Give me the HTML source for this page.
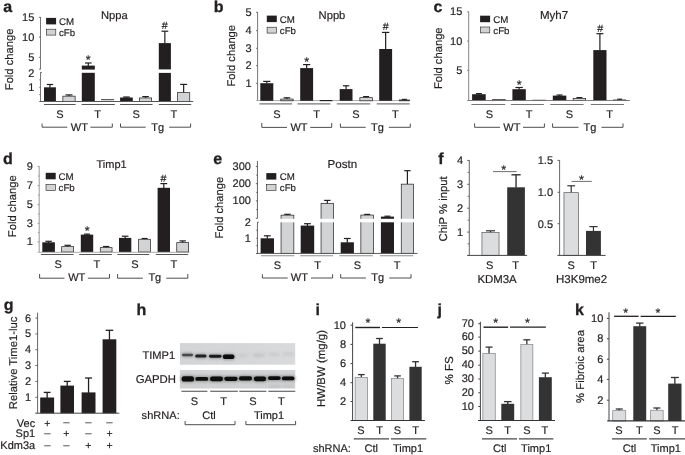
<!DOCTYPE html>
<html lang="en"><head><meta charset="utf-8"><title>Figure</title>
<style>
html,body{margin:0;padding:0;background:#fff;}
body{width:685px;height:455px;overflow:hidden;}
svg{display:block;font-family:"Liberation Sans",Arial,Helvetica,sans-serif;text-rendering:geometricPrecision;}
</style></head><body>
<svg width="685" height="455" viewBox="0 0 685 455">
<rect x="0" y="0" width="685" height="455" fill="#ffffff"/>
<text x="3.2" y="11.5" font-size="16" font-weight="bold" fill="#231f20" stroke="#231f20" stroke-width="0.3">a</text>
<text x="13.25" y="90.2" font-size="11.2" fill="#231f20" transform="rotate(-90 13.25 90.2)" stroke="#231f20" stroke-width="0.18">Fold change</text>
<line x1="40.5" y1="17" x2="40.5" y2="69.4" stroke="#666" stroke-width="0.9"/>
<line x1="38.9" y1="17.3" x2="40.5" y2="17.3" stroke="#666" stroke-width="0.9"/>
<line x1="38.9" y1="37.1" x2="40.5" y2="37.1" stroke="#666" stroke-width="0.9"/>
<line x1="38.9" y1="57.3" x2="40.5" y2="57.3" stroke="#666" stroke-width="0.9"/>
<line x1="38.9" y1="69.2" x2="40.5" y2="69.2" stroke="#666" stroke-width="0.9"/>
<line x1="40.5" y1="72.3" x2="40.5" y2="101.5" stroke="#666" stroke-width="0.9"/>
<line x1="40.5" y1="72.4" x2="42" y2="72.4" stroke="#4d4d4f" stroke-width="0.8"/>
<line x1="39.2" y1="79.9" x2="40.5" y2="79.9" stroke="#4d4d4f" stroke-width="0.7"/>
<line x1="39.2" y1="87.3" x2="40.5" y2="87.3" stroke="#4d4d4f" stroke-width="0.7"/>
<line x1="39.2" y1="94.6" x2="40.5" y2="94.6" stroke="#4d4d4f" stroke-width="0.7"/>
<text x="34.3" y="20.8" font-size="11" text-anchor="end" fill="#231f20" stroke="#231f20" stroke-width="0.18">15</text>
<text x="34.3" y="40.6" font-size="11" text-anchor="end" fill="#231f20" stroke="#231f20" stroke-width="0.18">10</text>
<text x="34.3" y="60.8" font-size="11" text-anchor="end" fill="#231f20" stroke="#231f20" stroke-width="0.18">5</text>
<text x="34.3" y="76.5" font-size="11" text-anchor="end" fill="#231f20" stroke="#231f20" stroke-width="0.18">2</text>
<text x="34.3" y="90.8" font-size="11" text-anchor="end" fill="#231f20" stroke="#231f20" stroke-width="0.18">1</text>
<rect x="46.1" y="17.9" width="10" height="6.5" fill="#231f20"/>
<rect x="46.4" y="29.2" width="9.4" height="5.9" fill="#d1d3d4" stroke="#231f20" stroke-width="0.6"/>
<text x="59" y="24.9" font-size="9.7" fill="#231f20" stroke="#231f20" stroke-width="0.18">CM</text>
<text x="59" y="35.9" font-size="9.7" fill="#231f20" stroke="#231f20" stroke-width="0.18">cFb</text>
<text x="101" y="18.6" font-size="11.2" fill="#231f20" stroke="#231f20" stroke-width="0.18">Nppa</text>
<line x1="49.95" y1="84.5" x2="49.95" y2="87.8" stroke="#231f20" stroke-width="1.2"/>
<line x1="46.75" y1="84.5" x2="53.15" y2="84.5" stroke="#231f20" stroke-width="1.2"/>
<rect x="44" y="87.3" width="11.9" height="14.3" fill="#231f20"/>
<line x1="69" y1="94.9" x2="69" y2="96.3" stroke="#231f20" stroke-width="1.2"/>
<line x1="65.5" y1="94.9" x2="72.5" y2="94.9" stroke="#231f20" stroke-width="1.2"/>
<rect x="62.85" y="96.15" width="12.3" height="5.45" fill="#d1d3d4" stroke="#231f20" stroke-width="0.7"/>
<line x1="88.3" y1="63" x2="88.3" y2="66.1" stroke="#231f20" stroke-width="1.2"/>
<line x1="85" y1="63" x2="91.6" y2="63" stroke="#231f20" stroke-width="1.2"/>
<rect x="81.8" y="65.6" width="13" height="36" fill="#231f20"/>
<rect x="101.35" y="99.65" width="12.3" height="1.95" fill="#d1d3d4" stroke="#231f20" stroke-width="0.7"/>
<line x1="126.45" y1="97" x2="126.45" y2="98" stroke="#231f20" stroke-width="1.2"/>
<line x1="123.15" y1="97" x2="129.75" y2="97" stroke="#231f20" stroke-width="1.2"/>
<rect x="120.1" y="97.5" width="12.7" height="4.1" fill="#231f20"/>
<line x1="145.55" y1="96.6" x2="145.55" y2="98.1" stroke="#231f20" stroke-width="1.2"/>
<line x1="142.25" y1="96.6" x2="148.85" y2="96.6" stroke="#231f20" stroke-width="1.2"/>
<rect x="139.45" y="97.95" width="12.2" height="3.65" fill="#d1d3d4" stroke="#231f20" stroke-width="0.7"/>
<line x1="164.85" y1="31.2" x2="164.85" y2="43.6" stroke="#231f20" stroke-width="1.2"/>
<line x1="161.45" y1="31.2" x2="168.25" y2="31.2" stroke="#231f20" stroke-width="1.2"/>
<rect x="158.8" y="43.1" width="12.1" height="58.5" fill="#231f20"/>
<line x1="183.65" y1="84.4" x2="183.65" y2="92.8" stroke="#231f20" stroke-width="1.2"/>
<line x1="180.15" y1="84.4" x2="187.15" y2="84.4" stroke="#231f20" stroke-width="1.2"/>
<rect x="177.55" y="92.65" width="12.2" height="8.95" fill="#d1d3d4" stroke="#231f20" stroke-width="0.7"/>
<rect x="80" y="69.6" width="16" height="3.2" fill="#fff"/>
<rect x="157" y="69.4" width="16" height="3.5" fill="#fff"/>
<line x1="39.4" y1="101.5" x2="193.2" y2="101.5" stroke="#555" stroke-width="1"/>
<line x1="44" y1="104.5" x2="75.6" y2="104.5" stroke="#555" stroke-width="1"/>
<line x1="81.6" y1="104.5" x2="114.8" y2="104.5" stroke="#555" stroke-width="1"/>
<line x1="120.1" y1="104.5" x2="152.5" y2="104.5" stroke="#555" stroke-width="1"/>
<line x1="158.8" y1="104.5" x2="191.2" y2="104.5" stroke="#555" stroke-width="1"/>
<text x="88.3" y="64.45" font-size="12.5" text-anchor="middle" fill="#231f20" stroke="#231f20" stroke-width="0.18">*</text>
<text x="164.6" y="28.8" font-size="10.6" text-anchor="middle" fill="#231f20" stroke="#231f20" stroke-width="0.18">#</text>
<text x="59.8" y="118" font-size="11" text-anchor="middle" fill="#231f20" stroke="#231f20" stroke-width="0.18">S</text>
<text x="97.5" y="118" font-size="11" text-anchor="middle" fill="#231f20" stroke="#231f20" stroke-width="0.18">T</text>
<text x="136.1" y="118" font-size="11" text-anchor="middle" fill="#231f20" stroke="#231f20" stroke-width="0.18">S</text>
<text x="173.9" y="118" font-size="11" text-anchor="middle" fill="#231f20" stroke="#231f20" stroke-width="0.18">T</text>
<path d="M42.1 123.5V127.2H67.3" fill="none" stroke="#3a3a3c" stroke-width="0.9"/>
<path d="M90.4 127.2H112.3V123.5" fill="none" stroke="#3a3a3c" stroke-width="0.9"/>
<text x="79.4" y="130.7" font-size="11" text-anchor="middle" fill="#231f20" stroke="#231f20" stroke-width="0.18">WT</text>
<path d="M120.5 123.5V127.2H145.7" fill="none" stroke="#3a3a3c" stroke-width="0.9"/>
<path d="M169.2 127.2H190.6V123.5" fill="none" stroke="#3a3a3c" stroke-width="0.9"/>
<text x="157.7" y="130.7" font-size="11" text-anchor="middle" fill="#231f20" stroke="#231f20" stroke-width="0.18">Tg</text>
<text x="213.8" y="11.5" font-size="16" font-weight="bold" fill="#231f20" stroke="#231f20" stroke-width="0.3">b</text>
<text x="235.1" y="86.5" font-size="11.2" fill="#231f20" transform="rotate(-90 235.1 86.5)" stroke="#231f20" stroke-width="0.18">Fold change</text>
<line x1="257.6" y1="12" x2="257.6" y2="100.8" stroke="#666" stroke-width="0.9"/>
<line x1="256" y1="12.3" x2="257.6" y2="12.3" stroke="#666" stroke-width="0.9"/>
<line x1="256" y1="30.6" x2="257.6" y2="30.6" stroke="#666" stroke-width="0.9"/>
<line x1="256" y1="48.3" x2="257.6" y2="48.3" stroke="#666" stroke-width="0.9"/>
<line x1="256" y1="65.6" x2="257.6" y2="65.6" stroke="#666" stroke-width="0.9"/>
<line x1="256" y1="83.3" x2="257.6" y2="83.3" stroke="#666" stroke-width="0.9"/>
<text x="251.5" y="15.8" font-size="11" text-anchor="end" fill="#231f20" stroke="#231f20" stroke-width="0.18">5</text>
<text x="251.5" y="34.1" font-size="11" text-anchor="end" fill="#231f20" stroke="#231f20" stroke-width="0.18">4</text>
<text x="251.5" y="51.8" font-size="11" text-anchor="end" fill="#231f20" stroke="#231f20" stroke-width="0.18">3</text>
<text x="251.5" y="69.1" font-size="11" text-anchor="end" fill="#231f20" stroke="#231f20" stroke-width="0.18">2</text>
<text x="251.5" y="86.7" font-size="11" text-anchor="end" fill="#231f20" stroke="#231f20" stroke-width="0.18">1</text>
<rect x="266.8" y="15.6" width="10" height="6.5" fill="#231f20"/>
<rect x="267.1" y="27.2" width="9.4" height="5.9" fill="#d1d3d4" stroke="#231f20" stroke-width="0.6"/>
<text x="279.8" y="22.6" font-size="9.7" fill="#231f20" stroke="#231f20" stroke-width="0.18">CM</text>
<text x="279.8" y="33.9" font-size="9.7" fill="#231f20" stroke="#231f20" stroke-width="0.18">cFb</text>
<text x="318.6" y="18.6" font-size="11.2" fill="#231f20" stroke="#231f20" stroke-width="0.18">Nppb</text>
<line x1="256.2" y1="100.6" x2="410" y2="100.6" stroke="#a0a0a0" stroke-width="0.9"/>
<line x1="266.8" y1="81.4" x2="266.8" y2="83.7" stroke="#231f20" stroke-width="1.2"/>
<line x1="263.2" y1="81.4" x2="270.4" y2="81.4" stroke="#231f20" stroke-width="1.2"/>
<rect x="260.3" y="83.2" width="13" height="17.6" fill="#231f20"/>
<line x1="286.95" y1="97.8" x2="286.95" y2="99.2" stroke="#231f20" stroke-width="1.2"/>
<line x1="283.65" y1="97.8" x2="290.25" y2="97.8" stroke="#231f20" stroke-width="1.2"/>
<rect x="280.75" y="99.05" width="12.4" height="1.75" fill="#d1d3d4" stroke="#231f20" stroke-width="0.7"/>
<line x1="306.65" y1="64.6" x2="306.65" y2="68.6" stroke="#231f20" stroke-width="1.2"/>
<line x1="303.05" y1="64.6" x2="310.25" y2="64.6" stroke="#231f20" stroke-width="1.2"/>
<rect x="300.2" y="68.1" width="12.9" height="32.7" fill="#231f20"/>
<rect x="320.15" y="100.35" width="11.9" height="0.45" fill="#d1d3d4" stroke="#231f20" stroke-width="0.7"/>
<line x1="346.1" y1="85.8" x2="346.1" y2="89.6" stroke="#231f20" stroke-width="1.2"/>
<line x1="342.9" y1="85.8" x2="349.3" y2="85.8" stroke="#231f20" stroke-width="1.2"/>
<rect x="339.7" y="89.1" width="12.8" height="11.7" fill="#231f20"/>
<line x1="366.1" y1="96.6" x2="366.1" y2="97.8" stroke="#231f20" stroke-width="1.2"/>
<line x1="363.1" y1="96.6" x2="369.1" y2="96.6" stroke="#231f20" stroke-width="1.2"/>
<rect x="359.85" y="97.65" width="12.5" height="3.15" fill="#d1d3d4" stroke="#231f20" stroke-width="0.7"/>
<line x1="385.65" y1="32.4" x2="385.65" y2="49.5" stroke="#231f20" stroke-width="1.2"/>
<line x1="381.95" y1="32.4" x2="389.35" y2="32.4" stroke="#231f20" stroke-width="1.2"/>
<rect x="379.2" y="49" width="12.9" height="51.8" fill="#231f20"/>
<line x1="404.35" y1="99.4" x2="404.35" y2="100.1" stroke="#231f20" stroke-width="1.2"/>
<line x1="401.85" y1="99.4" x2="406.85" y2="99.4" stroke="#231f20" stroke-width="1.2"/>
<rect x="399.35" y="99.95" width="10" height="0.85" fill="#d1d3d4" stroke="#231f20" stroke-width="0.7"/>
<line x1="259.4" y1="103.85" x2="292.1" y2="103.85" stroke="#777" stroke-width="1.2"/>
<line x1="297.5" y1="103.85" x2="330.4" y2="103.85" stroke="#777" stroke-width="1.2"/>
<line x1="336.8" y1="103.85" x2="370.3" y2="103.85" stroke="#777" stroke-width="1.2"/>
<line x1="376.7" y1="103.85" x2="409.7" y2="103.85" stroke="#777" stroke-width="1.2"/>
<text x="306.8" y="65.65" font-size="12.5" text-anchor="middle" fill="#231f20" stroke="#231f20" stroke-width="0.18">*</text>
<text x="385.8" y="30.3" font-size="10.6" text-anchor="middle" fill="#231f20" stroke="#231f20" stroke-width="0.18">#</text>
<text x="277" y="118" font-size="11" text-anchor="middle" fill="#231f20" stroke="#231f20" stroke-width="0.18">S</text>
<text x="316.5" y="118" font-size="11" text-anchor="middle" fill="#231f20" stroke="#231f20" stroke-width="0.18">T</text>
<text x="355.8" y="118" font-size="11" text-anchor="middle" fill="#231f20" stroke="#231f20" stroke-width="0.18">S</text>
<text x="395.4" y="118" font-size="11" text-anchor="middle" fill="#231f20" stroke="#231f20" stroke-width="0.18">T</text>
<path d="M261.8 123V127.4H287" fill="none" stroke="#3a3a3c" stroke-width="0.9"/>
<path d="M310.2 127.4H331.7V123" fill="none" stroke="#3a3a3c" stroke-width="0.9"/>
<text x="299" y="130.5" font-size="11" text-anchor="middle" fill="#231f20" stroke="#231f20" stroke-width="0.18">WT</text>
<path d="M340.4 123.6V127.3H365.7" fill="none" stroke="#3a3a3c" stroke-width="0.9"/>
<path d="M388.8 127.3H410.3V123.6" fill="none" stroke="#3a3a3c" stroke-width="0.9"/>
<text x="377.5" y="130.5" font-size="11" text-anchor="middle" fill="#231f20" stroke="#231f20" stroke-width="0.18">Tg</text>
<text x="433.4" y="11.5" font-size="16" font-weight="bold" fill="#231f20" stroke="#231f20" stroke-width="0.3">c</text>
<text x="442" y="89" font-size="11.2" fill="#231f20" transform="rotate(-90 442 89)" stroke="#231f20" stroke-width="0.18">Fold change</text>
<line x1="468.7" y1="11.5" x2="468.7" y2="100.6" stroke="#777" stroke-width="0.9"/>
<line x1="467.1" y1="11.8" x2="468.7" y2="11.8" stroke="#777" stroke-width="0.9"/>
<line x1="467.1" y1="41.1" x2="468.7" y2="41.1" stroke="#777" stroke-width="0.9"/>
<line x1="467.1" y1="70.4" x2="468.7" y2="70.4" stroke="#777" stroke-width="0.9"/>
<text x="462.3" y="15.3" font-size="11" text-anchor="end" fill="#231f20" stroke="#231f20" stroke-width="0.18">15</text>
<text x="462.3" y="44.6" font-size="11" text-anchor="end" fill="#231f20" stroke="#231f20" stroke-width="0.18">10</text>
<text x="462.3" y="73.9" font-size="11" text-anchor="end" fill="#231f20" stroke="#231f20" stroke-width="0.18">5</text>
<rect x="480.1" y="15.7" width="10" height="6.5" fill="#231f20"/>
<rect x="480.4" y="27" width="9.4" height="5.9" fill="#d1d3d4" stroke="#231f20" stroke-width="0.6"/>
<text x="493.3" y="22.7" font-size="9.7" fill="#231f20" stroke="#231f20" stroke-width="0.18">CM</text>
<text x="493.3" y="33.7" font-size="9.7" fill="#231f20" stroke="#231f20" stroke-width="0.18">cFb</text>
<text x="540" y="18.7" font-size="11.5" fill="#231f20" stroke="#231f20" stroke-width="0.18">Myh7</text>
<line x1="478.9" y1="93.6" x2="478.9" y2="94.7" stroke="#231f20" stroke-width="1.2"/>
<line x1="475.9" y1="93.6" x2="481.9" y2="93.6" stroke="#231f20" stroke-width="1.2"/>
<rect x="472.1" y="94.2" width="13.6" height="6.4" fill="#231f20"/>
<rect x="492.55" y="99.65" width="12.8" height="0.95" fill="#d1d3d4" stroke="#231f20" stroke-width="0.7"/>
<line x1="519.1" y1="87.5" x2="519.1" y2="89.7" stroke="#231f20" stroke-width="1.2"/>
<line x1="515.4" y1="87.5" x2="522.8" y2="87.5" stroke="#231f20" stroke-width="1.2"/>
<rect x="512.4" y="89.2" width="13.4" height="11.4" fill="#231f20"/>
<rect x="532.85" y="100.15" width="12.7" height="0.45" fill="#d1d3d4" stroke="#231f20" stroke-width="0.7"/>
<line x1="559.55" y1="95" x2="559.55" y2="96.1" stroke="#231f20" stroke-width="1.2"/>
<line x1="556.55" y1="95" x2="562.55" y2="95" stroke="#231f20" stroke-width="1.2"/>
<rect x="552.8" y="95.6" width="13.5" height="5" fill="#231f20"/>
<line x1="579.4" y1="97.6" x2="579.4" y2="98.5" stroke="#231f20" stroke-width="1.2"/>
<line x1="576.4" y1="97.6" x2="582.4" y2="97.6" stroke="#231f20" stroke-width="1.2"/>
<rect x="573.15" y="98.35" width="12.5" height="2.25" fill="#d1d3d4" stroke="#231f20" stroke-width="0.7"/>
<line x1="599.9" y1="33.7" x2="599.9" y2="50.6" stroke="#231f20" stroke-width="1.2"/>
<line x1="596.4" y1="33.7" x2="603.4" y2="33.7" stroke="#231f20" stroke-width="1.2"/>
<rect x="593.3" y="50.1" width="13.2" height="50.5" fill="#231f20"/>
<line x1="619.7" y1="99.2" x2="619.7" y2="100.1" stroke="#231f20" stroke-width="1.2"/>
<line x1="617.2" y1="99.2" x2="622.2" y2="99.2" stroke="#231f20" stroke-width="1.2"/>
<rect x="613.45" y="99.95" width="12.5" height="0.65" fill="#d1d3d4" stroke="#231f20" stroke-width="0.7"/>
<line x1="467.2" y1="100.5" x2="630" y2="100.5" stroke="#707070" stroke-width="0.9"/>
<line x1="471.4" y1="104.5" x2="505.3" y2="104.5" stroke="#666" stroke-width="0.9"/>
<line x1="510.9" y1="104.5" x2="543.9" y2="104.5" stroke="#666" stroke-width="0.9"/>
<line x1="550.3" y1="104.5" x2="583.6" y2="104.5" stroke="#666" stroke-width="0.9"/>
<line x1="590.8" y1="104.5" x2="624" y2="104.5" stroke="#666" stroke-width="0.9"/>
<text x="519.1" y="89.05" font-size="12.5" text-anchor="middle" fill="#231f20" stroke="#231f20" stroke-width="0.18">*</text>
<text x="600.2" y="31.6" font-size="10.6" text-anchor="middle" fill="#231f20" stroke="#231f20" stroke-width="0.18">#</text>
<text x="489.4" y="118" font-size="11" text-anchor="middle" fill="#231f20" stroke="#231f20" stroke-width="0.18">S</text>
<text x="529.2" y="118" font-size="11" text-anchor="middle" fill="#231f20" stroke="#231f20" stroke-width="0.18">T</text>
<text x="569.5" y="118" font-size="11" text-anchor="middle" fill="#231f20" stroke="#231f20" stroke-width="0.18">S</text>
<text x="609.6" y="118" font-size="11" text-anchor="middle" fill="#231f20" stroke="#231f20" stroke-width="0.18">T</text>
<path d="M474.6 123.4V127.3H500" fill="none" stroke="#3a3a3c" stroke-width="0.9"/>
<path d="M523 127.3H544.4V123.4" fill="none" stroke="#3a3a3c" stroke-width="0.9"/>
<text x="511.9" y="130.7" font-size="11" text-anchor="middle" fill="#231f20" stroke="#231f20" stroke-width="0.18">WT</text>
<path d="M552.6 123.4V127.3H578.5" fill="none" stroke="#3a3a3c" stroke-width="0.9"/>
<path d="M601.5 127.3H623V123.4" fill="none" stroke="#3a3a3c" stroke-width="0.9"/>
<text x="590" y="130.5" font-size="11" text-anchor="middle" fill="#231f20" stroke="#231f20" stroke-width="0.18">Tg</text>
<text x="3" y="164.3" font-size="16" font-weight="bold" fill="#231f20" stroke="#231f20" stroke-width="0.3">d</text>
<text x="16.5" y="237.2" font-size="11.25" fill="#231f20" transform="rotate(-90 16.5 237.2)" stroke="#231f20" stroke-width="0.18">Fold change</text>
<line x1="39.2" y1="166.2" x2="39.2" y2="252" stroke="#8c8c8c" stroke-width="0.9"/>
<line x1="37.6" y1="166.5" x2="39.2" y2="166.5" stroke="#8c8c8c" stroke-width="0.9"/>
<line x1="37.6" y1="185.6" x2="39.2" y2="185.6" stroke="#8c8c8c" stroke-width="0.9"/>
<line x1="37.6" y1="204.6" x2="39.2" y2="204.6" stroke="#8c8c8c" stroke-width="0.9"/>
<line x1="37.6" y1="223.3" x2="39.2" y2="223.3" stroke="#8c8c8c" stroke-width="0.9"/>
<line x1="37.6" y1="241.9" x2="39.2" y2="241.9" stroke="#8c8c8c" stroke-width="0.9"/>
<line x1="37.92" y1="176" x2="39.2" y2="176" stroke="#8c8c8c" stroke-width="0.81"/>
<line x1="37.92" y1="195.1" x2="39.2" y2="195.1" stroke="#8c8c8c" stroke-width="0.81"/>
<line x1="37.92" y1="214" x2="39.2" y2="214" stroke="#8c8c8c" stroke-width="0.81"/>
<line x1="37.92" y1="232.6" x2="39.2" y2="232.6" stroke="#8c8c8c" stroke-width="0.81"/>
<text x="32.8" y="170" font-size="11" text-anchor="end" fill="#231f20" stroke="#231f20" stroke-width="0.18">9</text>
<text x="32.8" y="189.1" font-size="11" text-anchor="end" fill="#231f20" stroke="#231f20" stroke-width="0.18">7</text>
<text x="32.8" y="208.1" font-size="11" text-anchor="end" fill="#231f20" stroke="#231f20" stroke-width="0.18">5</text>
<text x="32.8" y="226.8" font-size="11" text-anchor="end" fill="#231f20" stroke="#231f20" stroke-width="0.18">3</text>
<text x="32.8" y="245.4" font-size="11" text-anchor="end" fill="#231f20" stroke="#231f20" stroke-width="0.18">1</text>
<rect x="45.7" y="172.8" width="10" height="6.5" fill="#231f20"/>
<rect x="46" y="184.5" width="9.4" height="5.9" fill="#d1d3d4" stroke="#231f20" stroke-width="0.6"/>
<text x="58.6" y="179.8" font-size="9.7" fill="#231f20" stroke="#231f20" stroke-width="0.18">CM</text>
<text x="58.6" y="191.2" font-size="9.7" fill="#231f20" stroke="#231f20" stroke-width="0.18">cFb</text>
<text x="96.5" y="167.9" font-size="11" fill="#231f20" stroke="#231f20" stroke-width="0.18">Timp1</text>
<line x1="48.6" y1="241.3" x2="48.6" y2="242.8" stroke="#231f20" stroke-width="1.2"/>
<line x1="45.4" y1="241.3" x2="51.8" y2="241.3" stroke="#231f20" stroke-width="1.2"/>
<rect x="42.3" y="242.3" width="12.6" height="9.7" fill="#231f20"/>
<line x1="67.65" y1="245.3" x2="67.65" y2="246.8" stroke="#231f20" stroke-width="1.2"/>
<line x1="64.45" y1="245.3" x2="70.85" y2="245.3" stroke="#231f20" stroke-width="1.2"/>
<rect x="61.65" y="246.65" width="12" height="5.35" fill="#d1d3d4" stroke="#231f20" stroke-width="0.7"/>
<line x1="87" y1="234.1" x2="87" y2="235.1" stroke="#231f20" stroke-width="1.2"/>
<line x1="84" y1="234.1" x2="90" y2="234.1" stroke="#231f20" stroke-width="1.2"/>
<rect x="80.8" y="234.6" width="12.4" height="17.4" fill="#231f20"/>
<line x1="106.15" y1="246.5" x2="106.15" y2="247.8" stroke="#231f20" stroke-width="1.2"/>
<line x1="102.95" y1="246.5" x2="109.35" y2="246.5" stroke="#231f20" stroke-width="1.2"/>
<rect x="100.25" y="247.65" width="11.8" height="4.35" fill="#d1d3d4" stroke="#231f20" stroke-width="0.7"/>
<line x1="125.15" y1="236.2" x2="125.15" y2="238.4" stroke="#231f20" stroke-width="1.2"/>
<line x1="121.85" y1="236.2" x2="128.45" y2="236.2" stroke="#231f20" stroke-width="1.2"/>
<rect x="119" y="237.9" width="12.3" height="14.1" fill="#231f20"/>
<line x1="144.6" y1="238.5" x2="144.6" y2="239.4" stroke="#231f20" stroke-width="1.2"/>
<line x1="141.6" y1="238.5" x2="147.6" y2="238.5" stroke="#231f20" stroke-width="1.2"/>
<rect x="138.65" y="239.25" width="11.9" height="12.75" fill="#d1d3d4" stroke="#231f20" stroke-width="0.7"/>
<line x1="163.8" y1="183.6" x2="163.8" y2="188.3" stroke="#231f20" stroke-width="1.2"/>
<line x1="160.4" y1="183.6" x2="167.2" y2="183.6" stroke="#231f20" stroke-width="1.2"/>
<rect x="157.6" y="187.8" width="12.4" height="64.2" fill="#231f20"/>
<line x1="182.7" y1="240.9" x2="182.7" y2="242.8" stroke="#231f20" stroke-width="1.2"/>
<line x1="179.5" y1="240.9" x2="185.9" y2="240.9" stroke="#231f20" stroke-width="1.2"/>
<rect x="176.75" y="242.65" width="11.9" height="9.35" fill="#d1d3d4" stroke="#231f20" stroke-width="0.7"/>
<line x1="37.6" y1="252.3" x2="189.3" y2="252.3" stroke="#a0a0a0" stroke-width="0.9"/>
<line x1="40.9" y1="254.5" x2="73.6" y2="254.5" stroke="#444" stroke-width="0.9"/>
<line x1="79.2" y1="254.5" x2="111.8" y2="254.5" stroke="#444" stroke-width="0.9"/>
<line x1="117.3" y1="254.5" x2="149.2" y2="254.5" stroke="#444" stroke-width="0.9"/>
<line x1="155.9" y1="254.5" x2="188.1" y2="254.5" stroke="#444" stroke-width="0.9"/>
<text x="87.3" y="235.25" font-size="12.5" text-anchor="middle" fill="#231f20" stroke="#231f20" stroke-width="0.18">*</text>
<text x="163.5" y="181.7" font-size="10.6" text-anchor="middle" fill="#231f20" stroke="#231f20" stroke-width="0.18">#</text>
<text x="58.2" y="267.5" font-size="11" text-anchor="middle" fill="#231f20" stroke="#231f20" stroke-width="0.18">S</text>
<text x="96.8" y="267.5" font-size="11" text-anchor="middle" fill="#231f20" stroke="#231f20" stroke-width="0.18">T</text>
<text x="134.9" y="267.5" font-size="11" text-anchor="middle" fill="#231f20" stroke="#231f20" stroke-width="0.18">S</text>
<text x="173.9" y="267.5" font-size="11" text-anchor="middle" fill="#231f20" stroke="#231f20" stroke-width="0.18">T</text>
<path d="M39.6 274V278.2H64.4" fill="none" stroke="#3a3a3c" stroke-width="0.9"/>
<path d="M87.9 278.2H109.5V274" fill="none" stroke="#3a3a3c" stroke-width="0.9"/>
<text x="76.7" y="281.1" font-size="11" text-anchor="middle" fill="#231f20" stroke="#231f20" stroke-width="0.18">WT</text>
<path d="M117.6 274V278.2H142.8" fill="none" stroke="#3a3a3c" stroke-width="0.9"/>
<path d="M166.3 278.2H187.8V274" fill="none" stroke="#3a3a3c" stroke-width="0.9"/>
<text x="154.8" y="280.9" font-size="11" text-anchor="middle" fill="#231f20" stroke="#231f20" stroke-width="0.18">Tg</text>
<text x="213.2" y="164.3" font-size="16" font-weight="bold" fill="#231f20" stroke="#231f20" stroke-width="0.3">e</text>
<text x="222.6" y="238.4" font-size="11.2" fill="#231f20" transform="rotate(-90 222.6 238.4)" stroke="#231f20" stroke-width="0.18">Fold change</text>
<line x1="257.45" y1="160.9" x2="257.45" y2="218.5" stroke="#555" stroke-width="0.9"/>
<line x1="255.85" y1="166.5" x2="257.45" y2="166.5" stroke="#555" stroke-width="0.9"/>
<line x1="255.85" y1="183.7" x2="257.45" y2="183.7" stroke="#555" stroke-width="0.9"/>
<line x1="255.85" y1="200.9" x2="257.45" y2="200.9" stroke="#555" stroke-width="0.9"/>
<line x1="255.85" y1="218.3" x2="257.45" y2="218.3" stroke="#555" stroke-width="0.9"/>
<line x1="256.17" y1="175.2" x2="257.45" y2="175.2" stroke="#555" stroke-width="0.81"/>
<line x1="256.17" y1="192.4" x2="257.45" y2="192.4" stroke="#555" stroke-width="0.81"/>
<line x1="256.17" y1="209.6" x2="257.45" y2="209.6" stroke="#555" stroke-width="0.81"/>
<line x1="257.45" y1="222.2" x2="257.45" y2="253.5" stroke="#555" stroke-width="0.9"/>
<line x1="257.45" y1="222.3" x2="258.95" y2="222.3" stroke="#4d4d4f" stroke-width="0.8"/>
<line x1="256.15" y1="230.2" x2="257.45" y2="230.2" stroke="#4d4d4f" stroke-width="0.7"/>
<line x1="256.15" y1="238.2" x2="257.45" y2="238.2" stroke="#4d4d4f" stroke-width="0.7"/>
<line x1="256.15" y1="245.7" x2="257.45" y2="245.7" stroke="#4d4d4f" stroke-width="0.7"/>
<text x="250.9" y="170" font-size="11" text-anchor="end" fill="#231f20" stroke="#231f20" stroke-width="0.18">300</text>
<text x="250.9" y="187.2" font-size="11" text-anchor="end" fill="#231f20" stroke="#231f20" stroke-width="0.18">200</text>
<text x="250.9" y="204.4" font-size="11" text-anchor="end" fill="#231f20" stroke="#231f20" stroke-width="0.18">100</text>
<text x="250.9" y="225.8" font-size="11" text-anchor="end" fill="#231f20" stroke="#231f20" stroke-width="0.18">2</text>
<text x="250.9" y="241.7" font-size="11" text-anchor="end" fill="#231f20" stroke="#231f20" stroke-width="0.18">1</text>
<rect x="266.3" y="173.1" width="10" height="6.5" fill="#231f20"/>
<rect x="266.6" y="184.5" width="9.4" height="5.9" fill="#d1d3d4" stroke="#231f20" stroke-width="0.6"/>
<text x="279.8" y="180.1" font-size="9.7" fill="#231f20" stroke="#231f20" stroke-width="0.18">CM</text>
<text x="279.8" y="191.2" font-size="9.7" fill="#231f20" stroke="#231f20" stroke-width="0.18">cFb</text>
<text x="327.6" y="168.2" font-size="11.6" fill="#231f20" stroke="#231f20" stroke-width="0.18">Postn</text>
<line x1="267.3" y1="235.8" x2="267.3" y2="238.8" stroke="#231f20" stroke-width="1.2"/>
<line x1="263.9" y1="235.8" x2="270.7" y2="235.8" stroke="#231f20" stroke-width="1.2"/>
<rect x="260.6" y="238.3" width="13.4" height="15.2" fill="#231f20"/>
<line x1="287.45" y1="214.3" x2="287.45" y2="215.3" stroke="#231f20" stroke-width="1.2"/>
<line x1="284.25" y1="214.3" x2="290.65" y2="214.3" stroke="#231f20" stroke-width="1.2"/>
<rect x="281.05" y="215.15" width="12.8" height="38.35" fill="#d1d3d4" stroke="#231f20" stroke-width="0.7"/>
<line x1="307.45" y1="223.7" x2="307.45" y2="226.1" stroke="#231f20" stroke-width="1.2"/>
<line x1="304.05" y1="223.7" x2="310.85" y2="223.7" stroke="#231f20" stroke-width="1.2"/>
<rect x="300.7" y="225.6" width="13.5" height="27.9" fill="#231f20"/>
<line x1="327.3" y1="200.4" x2="327.3" y2="203.7" stroke="#231f20" stroke-width="1.2"/>
<line x1="324.1" y1="200.4" x2="330.5" y2="200.4" stroke="#231f20" stroke-width="1.2"/>
<rect x="321.05" y="203.55" width="12.5" height="49.95" fill="#d1d3d4" stroke="#231f20" stroke-width="0.7"/>
<line x1="347.3" y1="238.5" x2="347.3" y2="242.8" stroke="#231f20" stroke-width="1.2"/>
<line x1="343.9" y1="238.5" x2="350.7" y2="238.5" stroke="#231f20" stroke-width="1.2"/>
<rect x="340.7" y="242.3" width="13.2" height="11.2" fill="#231f20"/>
<line x1="367.15" y1="214.4" x2="367.15" y2="215.2" stroke="#231f20" stroke-width="1.2"/>
<line x1="364.15" y1="214.4" x2="370.15" y2="214.4" stroke="#231f20" stroke-width="1.2"/>
<rect x="360.85" y="215.05" width="12.6" height="38.45" fill="#d1d3d4" stroke="#231f20" stroke-width="0.7"/>
<line x1="387.45" y1="216.2" x2="387.45" y2="217.1" stroke="#231f20" stroke-width="1.2"/>
<line x1="384.45" y1="216.2" x2="390.45" y2="216.2" stroke="#231f20" stroke-width="1.2"/>
<rect x="380.9" y="216.6" width="13.1" height="36.9" fill="#231f20"/>
<line x1="407.4" y1="170.7" x2="407.4" y2="184.3" stroke="#231f20" stroke-width="1.2"/>
<line x1="404.2" y1="170.7" x2="410.6" y2="170.7" stroke="#231f20" stroke-width="1.2"/>
<rect x="401.25" y="184.15" width="12.3" height="69.35" fill="#d1d3d4" stroke="#231f20" stroke-width="0.7"/>
<rect x="259.5" y="218.8" width="157" height="3.5" fill="#fff"/>
<line x1="256" y1="253.45" x2="417.5" y2="253.45" stroke="#555" stroke-width="0.95"/>
<line x1="260.9" y1="255.75" x2="294.2" y2="255.75" stroke="#8c8c8c" stroke-width="1.2"/>
<line x1="300.2" y1="255.75" x2="333.1" y2="255.75" stroke="#8c8c8c" stroke-width="1.2"/>
<line x1="339.4" y1="255.75" x2="372.8" y2="255.75" stroke="#8c8c8c" stroke-width="1.2"/>
<line x1="379.9" y1="255.75" x2="413.2" y2="255.75" stroke="#8c8c8c" stroke-width="1.2"/>
<text x="277.4" y="268.6" font-size="11" text-anchor="middle" fill="#231f20" stroke="#231f20" stroke-width="0.18">S</text>
<text x="317.6" y="268.6" font-size="11" text-anchor="middle" fill="#231f20" stroke="#231f20" stroke-width="0.18">T</text>
<text x="357.5" y="268.6" font-size="11" text-anchor="middle" fill="#231f20" stroke="#231f20" stroke-width="0.18">S</text>
<text x="397" y="268.6" font-size="11" text-anchor="middle" fill="#231f20" stroke="#231f20" stroke-width="0.18">T</text>
<path d="M262.4 274.2V278H287.7" fill="none" stroke="#3a3a3c" stroke-width="0.9"/>
<path d="M311 278H332.6V274.2" fill="none" stroke="#3a3a3c" stroke-width="0.9"/>
<text x="299.4" y="281.3" font-size="11" text-anchor="middle" fill="#231f20" stroke="#231f20" stroke-width="0.18">WT</text>
<path d="M340.7 274.2V278H365.9" fill="none" stroke="#3a3a3c" stroke-width="0.9"/>
<path d="M389.3 278H411V274.2" fill="none" stroke="#3a3a3c" stroke-width="0.9"/>
<text x="377.6" y="281.1" font-size="11" text-anchor="middle" fill="#231f20" stroke="#231f20" stroke-width="0.18">Tg</text>
<text x="438.2" y="164.2" font-size="16" font-weight="bold" fill="#231f20" stroke="#231f20" stroke-width="0.3">f</text>
<text x="446.7" y="241.4" font-size="11.3" fill="#231f20" transform="rotate(-90 446.7 241.4)" stroke="#231f20" stroke-width="0.18">ChiP % input</text>
<line x1="469.3" y1="160.1" x2="469.3" y2="255.4" stroke="#555" stroke-width="0.9"/>
<line x1="467.2" y1="160.4" x2="469.3" y2="160.4" stroke="#555" stroke-width="0.9"/>
<line x1="467.2" y1="184.3" x2="469.3" y2="184.3" stroke="#555" stroke-width="0.9"/>
<line x1="467.2" y1="208.2" x2="469.3" y2="208.2" stroke="#555" stroke-width="0.9"/>
<line x1="467.2" y1="232.1" x2="469.3" y2="232.1" stroke="#555" stroke-width="0.9"/>
<line x1="467.62" y1="172.4" x2="469.3" y2="172.4" stroke="#555" stroke-width="0.81"/>
<line x1="467.62" y1="196.3" x2="469.3" y2="196.3" stroke="#555" stroke-width="0.81"/>
<line x1="467.62" y1="220.2" x2="469.3" y2="220.2" stroke="#555" stroke-width="0.81"/>
<line x1="467.62" y1="243.8" x2="469.3" y2="243.8" stroke="#555" stroke-width="0.81"/>
<text x="463.2" y="164.2" font-size="11" text-anchor="end" fill="#231f20" stroke="#231f20" stroke-width="0.18">4</text>
<text x="463.2" y="188.1" font-size="11" text-anchor="end" fill="#231f20" stroke="#231f20" stroke-width="0.18">3</text>
<text x="463.2" y="212" font-size="11" text-anchor="end" fill="#231f20" stroke="#231f20" stroke-width="0.18">2</text>
<text x="463.2" y="235.9" font-size="11" text-anchor="end" fill="#231f20" stroke="#231f20" stroke-width="0.18">1</text>
<line x1="490.5" y1="230.8" x2="490.5" y2="232.7" stroke="#333333" stroke-width="1.2"/>
<line x1="486" y1="230.8" x2="495" y2="230.8" stroke="#333333" stroke-width="1.2"/>
<rect x="481.95" y="232.55" width="17.1" height="22.85" fill="#dcddde" stroke="#58595b" stroke-width="0.7"/>
<line x1="516.05" y1="174.8" x2="516.05" y2="187.8" stroke="#333333" stroke-width="1.4"/>
<line x1="511.45" y1="174.8" x2="520.65" y2="174.8" stroke="#333333" stroke-width="1.4"/>
<rect x="507.2" y="187.3" width="17.7" height="68.1" fill="#333333"/>
<line x1="467.1" y1="255.4" x2="527.1" y2="255.4" stroke="#444" stroke-width="1"/>
<line x1="493" y1="171.6" x2="516.6" y2="171.6" stroke="#6d6e71" stroke-width="1"/>
<text x="503.7" y="174.15" font-size="12.5" text-anchor="middle" fill="#231f20" stroke="#231f20" stroke-width="0.18">*</text>
<text x="489.6" y="268.8" font-size="11" text-anchor="middle" fill="#231f20" stroke="#231f20" stroke-width="0.18">S</text>
<text x="515.5" y="268.8" font-size="11" text-anchor="middle" fill="#231f20" stroke="#231f20" stroke-width="0.18">T</text>
<text x="497" y="283" font-size="11.4" text-anchor="middle" fill="#231f20" stroke="#231f20" stroke-width="0.18">KDM3A</text>
<line x1="559.6" y1="160.1" x2="559.6" y2="255.4" stroke="#555" stroke-width="0.9"/>
<line x1="557.5" y1="160.4" x2="559.6" y2="160.4" stroke="#555" stroke-width="0.9"/>
<line x1="557.5" y1="192.3" x2="559.6" y2="192.3" stroke="#555" stroke-width="0.9"/>
<line x1="557.5" y1="223.7" x2="559.6" y2="223.7" stroke="#555" stroke-width="0.9"/>
<text x="553" y="164.3" font-size="11" text-anchor="end" fill="#231f20" stroke="#231f20" stroke-width="0.18">1.5</text>
<text x="553" y="196.2" font-size="11" text-anchor="end" fill="#231f20" stroke="#231f20" stroke-width="0.18">1.0</text>
<text x="553" y="227.6" font-size="11" text-anchor="end" fill="#231f20" stroke="#231f20" stroke-width="0.18">0.5</text>
<line x1="571.2" y1="185.8" x2="571.2" y2="192.8" stroke="#333333" stroke-width="1.2"/>
<line x1="567.3" y1="185.8" x2="575.1" y2="185.8" stroke="#333333" stroke-width="1.2"/>
<rect x="563.95" y="192.65" width="14.5" height="62.75" fill="#dcddde" stroke="#58595b" stroke-width="0.7"/>
<line x1="593.45" y1="226.6" x2="593.45" y2="231.4" stroke="#333333" stroke-width="1.2"/>
<line x1="589.35" y1="226.6" x2="597.55" y2="226.6" stroke="#333333" stroke-width="1.2"/>
<rect x="586" y="230.9" width="14.9" height="24.5" fill="#333333"/>
<line x1="557.4" y1="255.4" x2="605.6" y2="255.4" stroke="#444" stroke-width="1"/>
<line x1="571.6" y1="181.4" x2="591.8" y2="181.4" stroke="#6d6e71" stroke-width="1"/>
<text x="581.5" y="184.15" font-size="12.5" text-anchor="middle" fill="#231f20" stroke="#231f20" stroke-width="0.18">*</text>
<text x="571.1" y="268.8" font-size="11" text-anchor="middle" fill="#231f20" stroke="#231f20" stroke-width="0.18">S</text>
<text x="593.5" y="268.8" font-size="11" text-anchor="middle" fill="#231f20" stroke="#231f20" stroke-width="0.18">T</text>
<text x="581.6" y="282.8" font-size="11.5" text-anchor="middle" fill="#231f20" stroke="#231f20" stroke-width="0.18">H3K9me2</text>
<text x="3.8" y="310.4" font-size="16" font-weight="bold" fill="#231f20" stroke="#231f20" stroke-width="0.3">g</text>
<text x="17.2" y="409.2" font-size="11.25" fill="#231f20" transform="rotate(-90 17.2 409.2)" stroke="#231f20" stroke-width="0.18">Relative Time1-luc</text>
<line x1="37.6" y1="312.7" x2="37.6" y2="413.3" stroke="#555" stroke-width="0.9"/>
<line x1="35.4" y1="318.1" x2="37.6" y2="318.1" stroke="#555" stroke-width="0.9"/>
<line x1="35.4" y1="333.9" x2="37.6" y2="333.9" stroke="#555" stroke-width="0.9"/>
<line x1="35.4" y1="349.7" x2="37.6" y2="349.7" stroke="#555" stroke-width="0.9"/>
<line x1="35.4" y1="365.5" x2="37.6" y2="365.5" stroke="#555" stroke-width="0.9"/>
<line x1="35.4" y1="381.4" x2="37.6" y2="381.4" stroke="#555" stroke-width="0.9"/>
<line x1="35.4" y1="397.3" x2="37.6" y2="397.3" stroke="#555" stroke-width="0.9"/>
<text x="31" y="321.6" font-size="11" text-anchor="end" fill="#231f20" stroke="#231f20" stroke-width="0.18">6</text>
<text x="31" y="337.4" font-size="11" text-anchor="end" fill="#231f20" stroke="#231f20" stroke-width="0.18">5</text>
<text x="31" y="353.2" font-size="11" text-anchor="end" fill="#231f20" stroke="#231f20" stroke-width="0.18">4</text>
<text x="31" y="369" font-size="11" text-anchor="end" fill="#231f20" stroke="#231f20" stroke-width="0.18">3</text>
<text x="31" y="384.9" font-size="11" text-anchor="end" fill="#231f20" stroke="#231f20" stroke-width="0.18">2</text>
<text x="31" y="400.8" font-size="11" text-anchor="end" fill="#231f20" stroke="#231f20" stroke-width="0.18">1</text>
<line x1="47.15" y1="392.4" x2="47.15" y2="398" stroke="#231f20" stroke-width="1.3"/>
<line x1="43.75" y1="392.4" x2="50.55" y2="392.4" stroke="#231f20" stroke-width="1.3"/>
<rect x="40.2" y="397.5" width="13.9" height="15.8" fill="#231f20"/>
<line x1="67.2" y1="381.4" x2="67.2" y2="386.1" stroke="#231f20" stroke-width="1.3"/>
<line x1="63.8" y1="381.4" x2="70.6" y2="381.4" stroke="#231f20" stroke-width="1.3"/>
<rect x="60.4" y="385.6" width="13.6" height="27.7" fill="#231f20"/>
<line x1="88.55" y1="378" x2="88.55" y2="392.9" stroke="#231f20" stroke-width="1.3"/>
<line x1="85.05" y1="378" x2="92.05" y2="378" stroke="#231f20" stroke-width="1.3"/>
<rect x="81.6" y="392.4" width="13.9" height="20.9" fill="#231f20"/>
<line x1="109.45" y1="330.3" x2="109.45" y2="339.8" stroke="#231f20" stroke-width="1.3"/>
<line x1="105.65" y1="330.3" x2="113.25" y2="330.3" stroke="#231f20" stroke-width="1.3"/>
<rect x="102.6" y="339.3" width="13.7" height="74" fill="#231f20"/>
<line x1="35.3" y1="413.2" x2="119.3" y2="413.2" stroke="#444" stroke-width="1"/>
<text x="35.2" y="426.6" font-size="11" text-anchor="end" fill="#231f20" stroke="#231f20" stroke-width="0.18">Vec</text>
<text x="35.2" y="437" font-size="11" text-anchor="end" fill="#231f20" stroke="#231f20" stroke-width="0.18">Sp1</text>
<text x="35.2" y="448.8" font-size="11" text-anchor="end" fill="#231f20" stroke="#231f20" stroke-width="0.18">Kdm3a</text>
<text x="47.4" y="426.9" font-size="10.5" text-anchor="middle" fill="#231f20" stroke="#231f20" stroke-width="0.18">+</text>
<text x="66.4" y="427.45" font-size="12.5" text-anchor="middle" fill="#58595b" stroke="#58595b" stroke-width="0.18">−</text>
<text x="88.3" y="427.45" font-size="12.5" text-anchor="middle" fill="#58595b" stroke="#58595b" stroke-width="0.18">−</text>
<text x="109.5" y="427.45" font-size="12.5" text-anchor="middle" fill="#58595b" stroke="#58595b" stroke-width="0.18">−</text>
<text x="47.4" y="437.75" font-size="12.5" text-anchor="middle" fill="#58595b" stroke="#58595b" stroke-width="0.18">−</text>
<text x="66.4" y="437.2" font-size="10.5" text-anchor="middle" fill="#231f20" stroke="#231f20" stroke-width="0.18">+</text>
<text x="88.3" y="437.75" font-size="12.5" text-anchor="middle" fill="#58595b" stroke="#58595b" stroke-width="0.18">−</text>
<text x="109.5" y="437.2" font-size="10.5" text-anchor="middle" fill="#231f20" stroke="#231f20" stroke-width="0.18">+</text>
<text x="47.4" y="449.95" font-size="12.5" text-anchor="middle" fill="#58595b" stroke="#58595b" stroke-width="0.18">−</text>
<text x="66.4" y="449.95" font-size="12.5" text-anchor="middle" fill="#58595b" stroke="#58595b" stroke-width="0.18">−</text>
<text x="88.3" y="449.4" font-size="10.5" text-anchor="middle" fill="#231f20" stroke="#231f20" stroke-width="0.18">+</text>
<text x="109.5" y="449.4" font-size="10.5" text-anchor="middle" fill="#231f20" stroke="#231f20" stroke-width="0.18">+</text>
<text x="136.4" y="314.6" font-size="16" font-weight="bold" fill="#231f20" stroke="#231f20" stroke-width="0.3">h</text>
<text x="175.2" y="358.7" font-size="11.1" text-anchor="end" fill="#231f20" stroke="#231f20" stroke-width="0.18">TIMP1</text>
<text x="176" y="382.8" font-size="11.35" text-anchor="end" fill="#231f20" stroke="#231f20" stroke-width="0.18">GAPDH</text>
<defs><filter id="bl" x="-20%" y="-80%" width="140%" height="260%"><feGaussianBlur stdDeviation="0.75"/></filter><filter id="bl2" x="-30%" y="-120%" width="160%" height="340%"><feGaussianBlur stdDeviation="1.4"/></filter><linearGradient id="g1" x1="0" x2="1" y1="0" y2="0"><stop offset="0" stop-color="#d3d4d5"/><stop offset="0.5" stop-color="#d5d6d7"/><stop offset="1" stop-color="#d9dadb"/></linearGradient><linearGradient id="g2" x1="0" x2="0" y1="0" y2="1"><stop offset="0" stop-color="#d3d4d5"/><stop offset="1" stop-color="#cfd0d1"/></linearGradient></defs>
<rect x="179.9" y="343.1" width="115.3" height="21.6" fill="url(#g1)"/>
<rect x="179.9" y="370" width="115.3" height="18.5" fill="url(#g2)"/>
<g filter="url(#bl2)" opacity="0.5">
<rect x="181.5" y="353.1" width="12" height="3.8" rx="1.9" fill="#555"/>
<rect x="194.7" y="353.65" width="12.3" height="4.5" rx="2.25" fill="#555"/>
<rect x="208.5" y="354" width="13.5" height="4.4" rx="2.2" fill="#555"/>
<rect x="222.3" y="353.75" width="12.7" height="5.9" rx="2.95" fill="#555"/>
<rect x="180.6" y="375.5" width="14.4" height="6.8" rx="3.4" fill="#444"/>
<rect x="194.4" y="376.25" width="14.8" height="5.3" rx="2.65" fill="#444"/>
<rect x="209" y="375.8" width="15" height="6.2" rx="3.1" fill="#444"/>
<rect x="223.3" y="375.9" width="15.3" height="5.8" rx="2.9" fill="#444"/>
<rect x="238" y="375.5" width="15" height="5.8" rx="2.9" fill="#444"/>
<rect x="252.9" y="375.8" width="14.2" height="6.2" rx="3.1" fill="#444"/>
<rect x="267" y="375.45" width="14.6" height="5.3" rx="2.65" fill="#444"/>
<rect x="280.9" y="375.75" width="14.5" height="5.3" rx="2.65" fill="#444"/>
<rect x="238" y="354.1" width="9.8" height="2.6" rx="1.3" fill="#b6b6b6"/>
<rect x="252.8" y="353.8" width="11.7" height="2.6" rx="1.3" fill="#a8a8a8"/>
<rect x="268" y="353" width="11.5" height="2.6" rx="1.3" fill="#b8b8b8"/>
<rect x="282.6" y="352.7" width="11.4" height="2.6" rx="1.3" fill="#b4b4b4"/>
<rect x="269" y="385.8" width="11" height="1.4" rx="0.7" fill="#999"/>
<rect x="283.5" y="385.6" width="10" height="1.4" rx="0.7" fill="#a2a2a2"/>
</g>
<g filter="url(#bl)">
<rect x="182" y="353.85" width="11" height="2.3" rx="1.15" fill="#484848"/>
<rect x="195.2" y="354.4" width="11.3" height="3" rx="1.5" fill="#222"/>
<rect x="209" y="354.75" width="12.5" height="2.9" rx="1.45" fill="#1c1c1c"/>
<rect x="222.8" y="354.5" width="11.7" height="4.4" rx="2.2" fill="#080808"/>
<rect x="181.6" y="376.3" width="12.4" height="5.2" rx="2.6" fill="#0a0a0a"/>
<rect x="195.4" y="377.05" width="12.8" height="3.7" rx="1.85" fill="#0a0a0a"/>
<rect x="210" y="376.6" width="13" height="4.6" rx="2.3" fill="#0a0a0a"/>
<rect x="224.3" y="376.7" width="13.3" height="4.2" rx="2.1" fill="#0a0a0a"/>
<rect x="239" y="376.3" width="13" height="4.2" rx="2.1" fill="#0a0a0a"/>
<rect x="253.9" y="376.6" width="12.2" height="4.6" rx="2.3" fill="#0a0a0a"/>
<rect x="268" y="376.25" width="12.6" height="3.7" rx="1.85" fill="#0a0a0a"/>
<rect x="281.9" y="376.55" width="12.5" height="3.7" rx="1.85" fill="#0a0a0a"/>
</g>
<line x1="181.4" y1="391.3" x2="207.4" y2="391.3" stroke="#666" stroke-width="1.2"/>
<line x1="210.2" y1="391.3" x2="237.8" y2="391.3" stroke="#666" stroke-width="1.2"/>
<line x1="239.3" y1="391.3" x2="266.4" y2="391.3" stroke="#666" stroke-width="1.2"/>
<line x1="268.3" y1="391.3" x2="295.3" y2="391.3" stroke="#666" stroke-width="1.2"/>
<text x="194.5" y="404.5" font-size="11" text-anchor="middle" fill="#231f20" stroke="#231f20" stroke-width="0.18">S</text>
<text x="223.6" y="404.5" font-size="11" text-anchor="middle" fill="#231f20" stroke="#231f20" stroke-width="0.18">T</text>
<text x="252.9" y="404.5" font-size="11" text-anchor="middle" fill="#231f20" stroke="#231f20" stroke-width="0.18">S</text>
<text x="281.4" y="404.5" font-size="11" text-anchor="middle" fill="#231f20" stroke="#231f20" stroke-width="0.18">T</text>
<text x="141.6" y="419.4" font-size="11.1" fill="#231f20" stroke="#231f20" stroke-width="0.18">shRNA:</text>
<text x="209" y="419.4" font-size="11" text-anchor="middle" fill="#231f20" stroke="#231f20" stroke-width="0.18">Ctl</text>
<text x="269" y="419.4" font-size="11" text-anchor="middle" fill="#231f20" stroke="#231f20" stroke-width="0.18">Timp1</text>
<path d="M185.1 421V424.7H235V421" fill="none" stroke="#3a3a3c" stroke-width="0.9"/>
<path d="M245.9 421V424.7H295.6V421" fill="none" stroke="#3a3a3c" stroke-width="0.9"/>
<text x="315.4" y="315" font-size="16" font-weight="bold" fill="#231f20" stroke="#231f20" stroke-width="0.3">i</text>
<text x="325" y="406.9" font-size="11.45" fill="#231f20" transform="rotate(-90 325 406.9)" stroke="#231f20" stroke-width="0.18">HW/BW (mg/g)</text>
<line x1="352.6" y1="322.4" x2="352.6" y2="420.6" stroke="#444" stroke-width="1"/>
<line x1="350.5" y1="325.2" x2="352.6" y2="325.2" stroke="#444" stroke-width="1"/>
<line x1="350.5" y1="344.4" x2="352.6" y2="344.4" stroke="#444" stroke-width="1"/>
<line x1="350.5" y1="363.6" x2="352.6" y2="363.6" stroke="#444" stroke-width="1"/>
<line x1="350.5" y1="382.7" x2="352.6" y2="382.7" stroke="#444" stroke-width="1"/>
<line x1="350.5" y1="401.5" x2="352.6" y2="401.5" stroke="#444" stroke-width="1"/>
<text x="346" y="328.7" font-size="11" text-anchor="end" fill="#231f20" stroke="#231f20" stroke-width="0.18">10</text>
<text x="346" y="347.9" font-size="11" text-anchor="end" fill="#231f20" stroke="#231f20" stroke-width="0.18">8</text>
<text x="346" y="367.1" font-size="11" text-anchor="end" fill="#231f20" stroke="#231f20" stroke-width="0.18">6</text>
<text x="346" y="386.2" font-size="11" text-anchor="end" fill="#231f20" stroke="#231f20" stroke-width="0.18">4</text>
<text x="346" y="405" font-size="11" text-anchor="end" fill="#231f20" stroke="#231f20" stroke-width="0.18">2</text>
<line x1="361.35" y1="374.6" x2="361.35" y2="377.5" stroke="#333333" stroke-width="1.3"/>
<line x1="358.05" y1="374.6" x2="364.65" y2="374.6" stroke="#333333" stroke-width="1.3"/>
<rect x="355.15" y="377.35" width="12.4" height="43.25" fill="#dcddde" stroke="#808285" stroke-width="0.7"/>
<line x1="379.5" y1="338.5" x2="379.5" y2="344.2" stroke="#333333" stroke-width="1.3"/>
<line x1="376.1" y1="338.5" x2="382.9" y2="338.5" stroke="#333333" stroke-width="1.3"/>
<rect x="373.3" y="343.7" width="12.4" height="76.9" fill="#333333"/>
<line x1="397.55" y1="375.9" x2="397.55" y2="378.8" stroke="#333333" stroke-width="1.3"/>
<line x1="394.25" y1="375.9" x2="400.85" y2="375.9" stroke="#333333" stroke-width="1.3"/>
<rect x="391.55" y="378.65" width="12" height="41.95" fill="#dcddde" stroke="#808285" stroke-width="0.7"/>
<line x1="415.55" y1="361.7" x2="415.55" y2="367.3" stroke="#333333" stroke-width="1.3"/>
<line x1="412.15" y1="361.7" x2="418.95" y2="361.7" stroke="#333333" stroke-width="1.3"/>
<rect x="409.4" y="366.8" width="12.3" height="53.8" fill="#333333"/>
<line x1="350.6" y1="420.45" x2="425" y2="420.45" stroke="#333" stroke-width="1.1"/>
<line x1="355.3" y1="327.5" x2="380" y2="327.5" stroke="#231f20" stroke-width="1.4"/>
<line x1="381.9" y1="327.5" x2="417.9" y2="327.5" stroke="#231f20" stroke-width="1.2"/>
<text x="368" y="326.65" font-size="12.5" text-anchor="middle" fill="#231f20" stroke="#231f20" stroke-width="0.18">*</text>
<text x="398.6" y="326.65" font-size="12.5" text-anchor="middle" fill="#231f20" stroke="#231f20" stroke-width="0.18">*</text>
<text x="361" y="433.5" font-size="11" text-anchor="middle" fill="#231f20" stroke="#231f20" stroke-width="0.18">S</text>
<text x="379.6" y="433.5" font-size="11" text-anchor="middle" fill="#231f20" stroke="#231f20" stroke-width="0.18">T</text>
<text x="397.4" y="433.5" font-size="11" text-anchor="middle" fill="#231f20" stroke="#231f20" stroke-width="0.18">S</text>
<text x="415.6" y="433.5" font-size="11" text-anchor="middle" fill="#231f20" stroke="#231f20" stroke-width="0.18">T</text>
<line x1="353.7" y1="438.8" x2="389" y2="438.8" stroke="#48484a" stroke-width="1.25"/>
<line x1="390.9" y1="438.8" x2="426.3" y2="438.8" stroke="#48484a" stroke-width="1.25"/>
<text x="313" y="452.4" font-size="11" fill="#231f20" stroke="#231f20" stroke-width="0.18">shRNA:</text>
<text x="371.2" y="452.4" font-size="11" text-anchor="middle" fill="#231f20" stroke="#231f20" stroke-width="0.18">Ctl</text>
<text x="408" y="452.4" font-size="11" text-anchor="middle" fill="#231f20" stroke="#231f20" stroke-width="0.18">Timp1</text>
<text x="437.6" y="315.2" font-size="16" font-weight="bold" fill="#231f20" stroke="#231f20" stroke-width="0.3">j</text>
<text x="453.2" y="384.5" font-size="11.6" fill="#231f20" transform="rotate(-90 453.2 384.5)" stroke="#231f20" stroke-width="0.18">% FS</text>
<line x1="480.4" y1="321.8" x2="480.4" y2="420.6" stroke="#444" stroke-width="1"/>
<line x1="478.3" y1="323.7" x2="480.4" y2="323.7" stroke="#444" stroke-width="1"/>
<line x1="478.3" y1="337.1" x2="480.4" y2="337.1" stroke="#444" stroke-width="1"/>
<line x1="478.3" y1="351.1" x2="480.4" y2="351.1" stroke="#444" stroke-width="1"/>
<line x1="478.3" y1="365.2" x2="480.4" y2="365.2" stroke="#444" stroke-width="1"/>
<line x1="478.3" y1="379" x2="480.4" y2="379" stroke="#444" stroke-width="1"/>
<line x1="478.3" y1="392.8" x2="480.4" y2="392.8" stroke="#444" stroke-width="1"/>
<line x1="478.3" y1="406.5" x2="480.4" y2="406.5" stroke="#444" stroke-width="1"/>
<text x="474" y="326.8" font-size="11" text-anchor="end" fill="#231f20" stroke="#231f20" stroke-width="0.18">70</text>
<text x="474" y="340.2" font-size="11" text-anchor="end" fill="#231f20" stroke="#231f20" stroke-width="0.18">60</text>
<text x="474" y="354.2" font-size="11" text-anchor="end" fill="#231f20" stroke="#231f20" stroke-width="0.18">50</text>
<text x="474" y="368.3" font-size="11" text-anchor="end" fill="#231f20" stroke="#231f20" stroke-width="0.18">40</text>
<text x="474" y="382.1" font-size="11" text-anchor="end" fill="#231f20" stroke="#231f20" stroke-width="0.18">30</text>
<text x="474" y="395.9" font-size="11" text-anchor="end" fill="#231f20" stroke="#231f20" stroke-width="0.18">20</text>
<text x="474" y="409.6" font-size="11" text-anchor="end" fill="#231f20" stroke="#231f20" stroke-width="0.18">10</text>
<line x1="489.05" y1="347.1" x2="489.05" y2="353.8" stroke="#333333" stroke-width="1.3"/>
<line x1="485.55" y1="347.1" x2="492.55" y2="347.1" stroke="#333333" stroke-width="1.3"/>
<rect x="482.85" y="353.65" width="12.4" height="66.95" fill="#dcddde" stroke="#808285" stroke-width="0.7"/>
<line x1="507.75" y1="401.6" x2="507.75" y2="404.3" stroke="#333333" stroke-width="1.3"/>
<line x1="503.95" y1="401.6" x2="511.55" y2="401.6" stroke="#333333" stroke-width="1.3"/>
<rect x="501.3" y="403.8" width="12.9" height="16.8" fill="#333333"/>
<line x1="526.85" y1="339.8" x2="526.85" y2="344.8" stroke="#333333" stroke-width="1.3"/>
<line x1="523.35" y1="339.8" x2="530.35" y2="339.8" stroke="#333333" stroke-width="1.3"/>
<rect x="520.85" y="344.65" width="12" height="75.95" fill="#dcddde" stroke="#808285" stroke-width="0.7"/>
<line x1="545.35" y1="373.1" x2="545.35" y2="377.7" stroke="#333333" stroke-width="1.3"/>
<line x1="541.85" y1="373.1" x2="548.85" y2="373.1" stroke="#333333" stroke-width="1.3"/>
<rect x="538.9" y="377.2" width="12.9" height="43.4" fill="#333333"/>
<line x1="478" y1="420.45" x2="555" y2="420.45" stroke="#333" stroke-width="1.1"/>
<line x1="483.5" y1="327.2" x2="508.1" y2="327.2" stroke="#231f20" stroke-width="1.4"/>
<line x1="510" y1="327.2" x2="545.9" y2="327.2" stroke="#231f20" stroke-width="1.3"/>
<text x="495.8" y="326.65" font-size="12.5" text-anchor="middle" fill="#231f20" stroke="#231f20" stroke-width="0.18">*</text>
<text x="527.5" y="326.65" font-size="12.5" text-anchor="middle" fill="#231f20" stroke="#231f20" stroke-width="0.18">*</text>
<text x="489.1" y="433.5" font-size="11" text-anchor="middle" fill="#231f20" stroke="#231f20" stroke-width="0.18">S</text>
<text x="507.6" y="433.5" font-size="11" text-anchor="middle" fill="#231f20" stroke="#231f20" stroke-width="0.18">T</text>
<text x="526.9" y="433.5" font-size="11" text-anchor="middle" fill="#231f20" stroke="#231f20" stroke-width="0.18">S</text>
<text x="544.9" y="433.5" font-size="11" text-anchor="middle" fill="#231f20" stroke="#231f20" stroke-width="0.18">T</text>
<line x1="481.9" y1="438.8" x2="517" y2="438.8" stroke="#48484a" stroke-width="1.25"/>
<line x1="518.9" y1="438.8" x2="553.4" y2="438.8" stroke="#48484a" stroke-width="1.25"/>
<text x="499.8" y="452.4" font-size="11" text-anchor="middle" fill="#231f20" stroke="#231f20" stroke-width="0.18">Ctl</text>
<text x="536.2" y="452.4" font-size="11" text-anchor="middle" fill="#231f20" stroke="#231f20" stroke-width="0.18">Timp1</text>
<text x="575" y="314.7" font-size="16" font-weight="bold" fill="#231f20" stroke="#231f20" stroke-width="0.3">k</text>
<text x="583.8" y="402.9" font-size="11.3" fill="#231f20" transform="rotate(-90 583.8 402.9)" stroke="#231f20" stroke-width="0.18">% Fibroic area</text>
<line x1="609" y1="312.3" x2="609" y2="421" stroke="#444" stroke-width="1"/>
<line x1="606.9" y1="318.4" x2="609" y2="318.4" stroke="#444" stroke-width="1"/>
<line x1="606.9" y1="338.8" x2="609" y2="338.8" stroke="#444" stroke-width="1"/>
<line x1="606.9" y1="359.2" x2="609" y2="359.2" stroke="#444" stroke-width="1"/>
<line x1="606.9" y1="379.4" x2="609" y2="379.4" stroke="#444" stroke-width="1"/>
<line x1="606.9" y1="400.2" x2="609" y2="400.2" stroke="#444" stroke-width="1"/>
<text x="603.3" y="321.9" font-size="11" text-anchor="end" fill="#231f20" stroke="#231f20" stroke-width="0.18">10</text>
<text x="603.3" y="342.3" font-size="11" text-anchor="end" fill="#231f20" stroke="#231f20" stroke-width="0.18">8</text>
<text x="603.3" y="362.7" font-size="11" text-anchor="end" fill="#231f20" stroke="#231f20" stroke-width="0.18">6</text>
<text x="603.3" y="382.9" font-size="11" text-anchor="end" fill="#231f20" stroke="#231f20" stroke-width="0.18">4</text>
<text x="603.3" y="403.8" font-size="11" text-anchor="end" fill="#231f20" stroke="#231f20" stroke-width="0.18">2</text>
<line x1="619.25" y1="409" x2="619.25" y2="410.8" stroke="#333333" stroke-width="1.3"/>
<line x1="615.75" y1="409" x2="622.75" y2="409" stroke="#333333" stroke-width="1.3"/>
<rect x="612.75" y="410.65" width="13" height="10.35" fill="#dcddde" stroke="#808285" stroke-width="0.7"/>
<line x1="639.75" y1="323.1" x2="639.75" y2="326.7" stroke="#333333" stroke-width="1.3"/>
<line x1="636.05" y1="323.1" x2="643.45" y2="323.1" stroke="#333333" stroke-width="1.3"/>
<rect x="633.3" y="326.2" width="12.9" height="94.8" fill="#333333"/>
<line x1="656.9" y1="408" x2="656.9" y2="410.4" stroke="#333333" stroke-width="1.3"/>
<line x1="653.4" y1="408" x2="660.4" y2="408" stroke="#333333" stroke-width="1.3"/>
<rect x="650.65" y="410.25" width="12.5" height="10.75" fill="#dcddde" stroke="#808285" stroke-width="0.7"/>
<line x1="674.85" y1="377.5" x2="674.85" y2="384.1" stroke="#333333" stroke-width="1.3"/>
<line x1="670.85" y1="377.5" x2="678.85" y2="377.5" stroke="#333333" stroke-width="1.3"/>
<rect x="668.2" y="383.6" width="13.3" height="37.4" fill="#333333"/>
<line x1="607.2" y1="420.9" x2="685" y2="420.9" stroke="#333" stroke-width="1.1"/>
<line x1="614.1" y1="316.3" x2="638.6" y2="316.3" stroke="#231f20" stroke-width="1.3"/>
<line x1="640.6" y1="316.3" x2="675.8" y2="316.3" stroke="#231f20" stroke-width="1.2"/>
<text x="625.7" y="317.35" font-size="12.5" text-anchor="middle" fill="#231f20" stroke="#231f20" stroke-width="0.18">*</text>
<text x="658" y="317.35" font-size="12.5" text-anchor="middle" fill="#231f20" stroke="#231f20" stroke-width="0.18">*</text>
<text x="619" y="433.6" font-size="11" text-anchor="middle" fill="#231f20" stroke="#231f20" stroke-width="0.18">S</text>
<text x="639.4" y="433.6" font-size="11" text-anchor="middle" fill="#231f20" stroke="#231f20" stroke-width="0.18">T</text>
<text x="656.8" y="433.6" font-size="11" text-anchor="middle" fill="#231f20" stroke="#231f20" stroke-width="0.18">S</text>
<text x="675.2" y="433.6" font-size="11" text-anchor="middle" fill="#231f20" stroke="#231f20" stroke-width="0.18">T</text>
<line x1="612" y1="438.8" x2="646.8" y2="438.8" stroke="#48484a" stroke-width="1.25"/>
<line x1="649.2" y1="438.8" x2="685" y2="438.8" stroke="#48484a" stroke-width="1.25"/>
<text x="629.6" y="452.3" font-size="11" text-anchor="middle" fill="#231f20" stroke="#231f20" stroke-width="0.18">Ctl</text>
<text x="665.8" y="452.3" font-size="11" text-anchor="middle" fill="#231f20" stroke="#231f20" stroke-width="0.18">Timp1</text>
</svg>
</body></html>
